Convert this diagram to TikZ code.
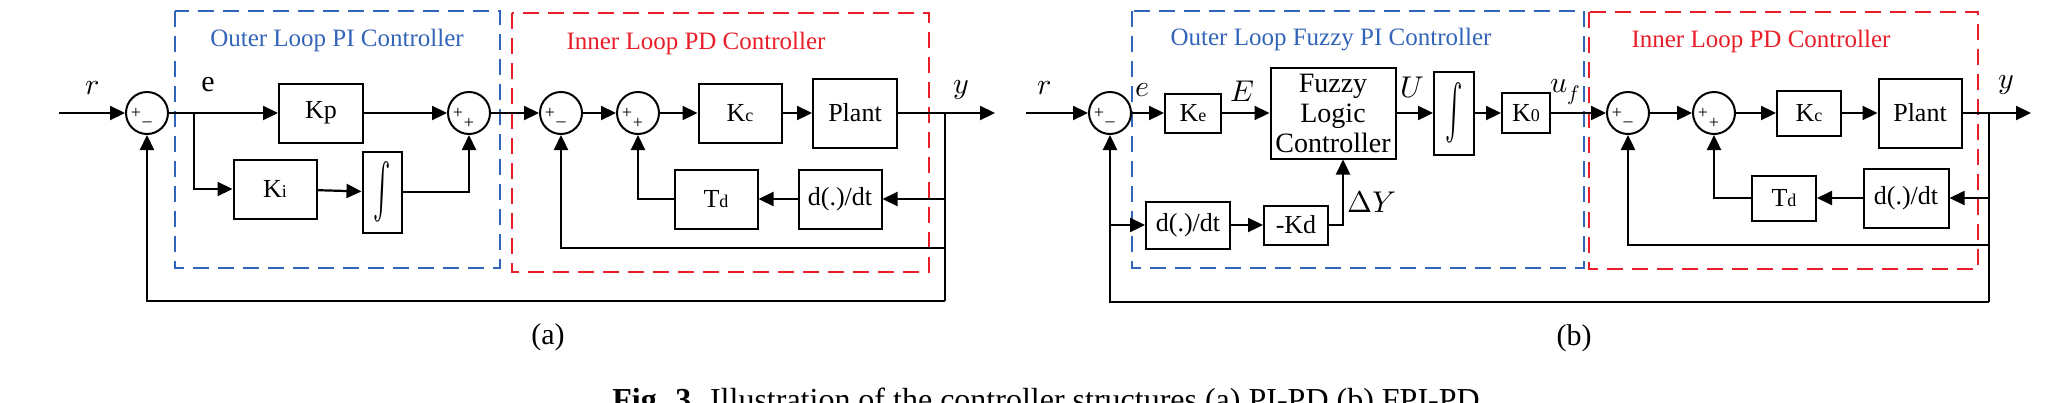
\documentclass[tikz,border=0pt]{standalone}
\usepackage{fontspec}
\usepackage{unicode-math}
\setmainfont{Liberation Serif}
\setmathfont{Latin Modern Math}
\usetikzlibrary{arrows.meta}
\definecolor{bl}{RGB}{50,100,185}
\definecolor{rd}{RGB}{232,30,40}
\begin{document}
\begin{tikzpicture}[x=1pt,y=-1pt,line width=2.2pt,
  box/.style={draw,line width=2pt,inner sep=0pt,font=\fontsize{26}{28}\selectfont},
  sm/.style={draw,circle,line width=2pt,minimum size=42pt,inner sep=0pt},
  ar/.style={-{Triangle[length=15pt,width=14pt]}},
  lb/.style={font=\fontsize{30}{32}\selectfont},
  sg/.style={font=\fontsize{18}{18}\selectfont,inner sep=0pt},
  ttl/.style={font=\fontsize{25}{27}\selectfont},
  dbl/.style={draw=bl,dash pattern=on 16pt off 9pt,line width=2pt},
  drd/.style={draw=rd,dash pattern=on 16pt off 9pt,line width=2pt}]
\newcommand{\sub}[1]{{\fontsize{18}{18}\selectfont #1}}
\newcommand{\intg}{\scalebox{1}[2.1]{$\int$}}
\useasboundingbox (0,0) rectangle (2052,402);
\clip (0,0) rectangle (2052,402);
% ===== (a) =====
\draw[dbl] (175,11) rectangle (500,268);
\draw[drd] (512,13) rectangle (929,272);
\node[ttl,text=bl] (ta1) at (337,40) {Outer Loop PI Controller};
\node[ttl,text=rd] (ta2) at (696,43) {Inner Loop PD Controller};
\coordinate (rinA) at (59,113);
\node[sm] (s1a) at (147,113) {};
\node[sg] (s1ap) at ([xshift=-11pt,yshift=0pt]s1a) {+};
\node[sg] (s1am) at ([yshift=-9pt]s1a) {\_};
\node[box,minimum width=84pt,minimum height=59pt] (kp) at (321,113) {Kp};
\node[box,minimum width=83pt,minimum height=59pt] (ki) at (275,189) {K\sub{i}};
\node[box,minimum width=39pt,minimum height=81pt] (inta) at (382,192) {\intg};
\node[sm] (s2a) at (469,113) {};
\node[sg] (s2ap) at ([xshift=-11pt]s2a) {+};
\node[sg] (s2aq) at ([yshift=-10pt]s2a) {+};
\node[sm] (s3a) at (561,113) {};
\node[sg] (s3ap) at ([xshift=-11pt]s3a) {+};
\node[sg] (s3am) at ([yshift=-9pt]s3a) {\_};
\node[sm] (s4a) at (638,113) {};
\node[sg] (s4ap) at ([xshift=-11pt]s4a) {+};
\node[sg] (s4aq) at ([yshift=-10pt]s4a) {+};
\node[box,minimum width=83pt,minimum height=59pt] (kca) at (740,113) {K\sub{c}};
\node[box,minimum width=84pt,minimum height=69pt] (pla) at (855,113) {Plant};
\node[box,minimum width=83pt,minimum height=59pt] (tda) at (716,199) {T\sub{d}};
\node[box,minimum width=83pt,minimum height=59pt] (dda) at (840,199) {d(.)/dt};
\coordinate (brA) at (194,113);
\coordinate (ybA) at (945,113);
\coordinate (outA) at (995,113);
\coordinate (fb1A) at (945,248);
\coordinate (fb2A) at (945,301);
\node[lb] (rA) at (92,88) {$r$};
\node[lb] (eA) at (208,85) {e};
\node[lb] (yA) at (961,90) {$y$};
\draw[ar] (rinA) -- (s1a);
\draw[ar] (s1a) -- (kp);
\draw[ar] (brA) |- (ki);
\draw[ar] (ki) -- (inta);
\draw[ar] (kp) -- (s2a);
\draw[ar] (inta.east) -| (s2a.south);
\draw[ar] (s2a) -- (s3a);
\draw[ar] (s3a) -- (s4a);
\draw[ar] (s4a) -- (kca);
\draw[ar] (kca) -- (pla);
\draw[ar] (pla) -- (outA);
\draw[ar] (ybA) |- (dda.east);
\draw[ar] (dda) -- (tda);
\draw[ar] (tda.west) -| (s4a.south);
\draw (ybA) -- (fb2A);
\draw[ar] (fb1A) -| (s3a.south);
\draw[ar] (fb2A) -| (s1a.south);
\node[lb] (capa) at (548,337) {(a)};
% ===== (b) =====
\draw[dbl] (1132,11) rectangle (1584,268);
\draw[drd] (1589,12) rectangle (1978,269);
\node[ttl,text=bl] (tb1) at (1331,40) {Outer Loop Fuzzy PI Controller};
\node[ttl,text=rd] (tb2) at (1761,41) {Inner Loop PD Controller};
\coordinate (rinB) at (1026,113);
\node[sm] (s1b) at (1110,113) {};
\node[sg] (s1bp) at ([xshift=-11pt]s1b) {+};
\node[sg] (s1bm) at ([yshift=-9pt]s1b) {\_};
\node[box,minimum width=56pt,minimum height=39pt] (ke) at (1193,113) {K\sub{e}};
\node[box,minimum width=125pt,minimum height=91pt,align=center,font=\fontsize{28}{30}\selectfont] (flc) at (1333,113) {Fuzzy\\Logic\\Controller};
\node[box,minimum width=40pt,minimum height=83pt] (intb) at (1454,113) {\intg};
\node[box,minimum width=48pt,minimum height=40pt] (k0) at (1526,113) {K\sub{0}};
\node[sm] (s3b) at (1628,113) {};
\node[sg] (s3bp) at ([xshift=-11pt]s3b) {+};
\node[sg] (s3bm) at ([yshift=-9pt]s3b) {\_};
\node[sm] (s4b) at (1714,113) {};
\node[sg] (s4bp) at ([xshift=-11pt]s4b) {+};
\node[sg] (s4bq) at ([yshift=-10pt]s4b) {+};
\node[box,minimum width=64pt,minimum height=45pt] (kcb) at (1809,113) {K\sub{c}};
\node[box,minimum width=83pt,minimum height=69pt] (plb) at (1920,113) {Plant};
\node[box,minimum width=64pt,minimum height=45pt] (tdb) at (1784,198) {T\sub{d}};
\node[box,minimum width=85pt,minimum height=59pt] (ddb) at (1906,198) {d(.)/dt};
\node[box,minimum width=84pt,minimum height=47pt] (ddb2) at (1188,225) {d(.)/dt};
\node[box,minimum width=64pt,minimum height=39pt] (kd) at (1296,225) {-Kd};
\coordinate (ybB) at (1989,113);
\coordinate (outB) at (2031,113);
\coordinate (fb1B) at (1989,245);
\coordinate (fb2B) at (1989,302);
\coordinate (brB) at (1110,225);
\node[lb] (rB) at (1044,88) {$r$};
\node[lb] (eB) at (1142,90) {$e$};
\node[lb] (EB) at (1242,91) {$E$};
\node[lb] (UB) at (1412,88) {$U$};
\node[lb] (ufB) at (1565,92) {$u_f$};
\node[lb] (dyB) at (1372,202) {$\Delta Y$};
\node[lb] (yB) at (2006,85) {$y$};
\draw[ar] (rinB) -- (s1b);
\draw[ar] (s1b) -- (ke);
\draw[ar] (ke) -- (flc);
\draw[ar] (flc) -- (intb);
\draw[ar] (intb) -- (k0);
\draw[ar] (k0) -- (s3b);
\draw[ar] (s3b) -- (s4b);
\draw[ar] (s4b) -- (kcb);
\draw[ar] (kcb) -- (plb);
\draw[ar] (plb) -- (outB);
\draw[ar] (ybB) |- (ddb.east);
\draw[ar] (ddb) -- (tdb);
\draw[ar] (tdb.west) -| (s4b.south);
\draw (ybB) -- (fb2B);
\draw[ar] (fb1B) -| (s3b.south);
\draw[ar] (fb2B) -| (s1b.south);
\draw[ar] (brB) -- (ddb2);
\draw[ar] (ddb2) -- (kd);
\draw[ar] (kd.east) -| ([xshift=10pt]flc.south);
\node[lb] (capb) at (1574,338) {(b)};
% caption
\node[anchor=base,font=\fontsize{32}{34}\selectfont] (cap) at (1046,410) {\textbf{Fig. 3.} Illustration of the controller structures (a) PI-PD (b) FPI-PD};
\end{tikzpicture}
\end{document}
